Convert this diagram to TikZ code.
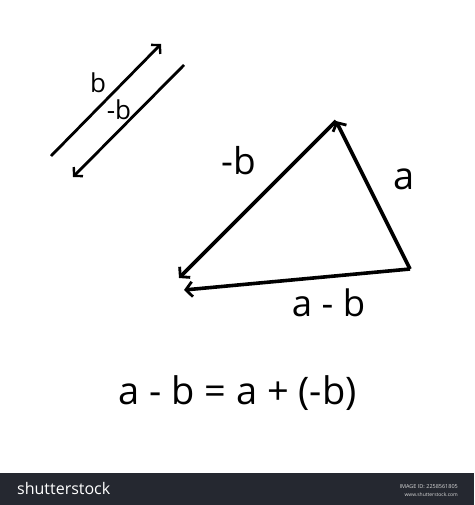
\documentclass[tikz,border=0pt]{standalone}
\usepackage{fontspec}
\setmainfont{Open Sans}
\usetikzlibrary{arrows.meta}
\definecolor{barcol}{HTML}{252830}
\definecolor{bartext}{HTML}{D8D8D8}
\tikzset{
  thinvec/.style={line width=2.8pt, -{Straight Barb[length=6pt,width=13pt,line width=2.4pt]}},
  thickvec/.style={line width=3.6pt, -{Straight Barb[length=6.5pt,width=15pt,line width=2.8pt]}},
  lbl/.style={anchor=base, inner sep=0pt, text=black},
}
\begin{document}
\begin{tikzpicture}[x=1pt,y=-1pt]
\useasboundingbox (0,0) rectangle (474,505);
\fill[white] (0,0) rectangle (474,505);
% top-left pair
\coordinate (b0) at (51,156);
\coordinate (b1) at (161,44);
\coordinate (n0) at (184,65);
\coordinate (n1) at (73,177);
\draw[thinvec] (b0) -- (b1);
\draw[thinvec] (n0) -- (n1);
\node[lbl, font=\fontsize{26}{30}\selectfont] (lb) at (98,93) {b};
\node[lbl, font=\fontsize{26}{30}\selectfont] (lnb) at (119,120) {-b};
% triangle
\coordinate (T) at (336,121);
\coordinate (R) at (410,269);
\coordinate (L1) at (179,278);
\coordinate (L2) at (184,290);
\draw[thickvec] (R) -- (T);
\draw[thickvec] (T) -- (L1);
\draw[thickvec] (R) -- (L2);
\node[lbl, font=\fontsize{37}{42}\selectfont] (tnb) at (239,174) {-b};
\node[lbl, font=\fontsize{38}{42}\selectfont] (ta) at (404,189) {a};
\node[lbl, font=\fontsize{36.5}{42}\selectfont] (tamb) at (328.5,316) {a - b};
% equation
\node[lbl, font=\fontsize{38}{44}\selectfont] (eq) at (237.5,404) {a - b = a + (-b)};
% bottom bar
\fill[barcol] (0,473) rectangle (474,505);
\node[anchor=base west, inner sep=0pt, text=white, font=\fontsize{16}{18}\selectfont] (ss) at (17,494) {shutterstock};
\node[anchor=base east, inner sep=0pt, text=bartext, font=\fontsize{5.5}{6}\selectfont] (iid) at (458,488) {IMAGE ID: 2258561805};
\node[anchor=base east, inner sep=0pt, text=bartext, font=\fontsize{5}{6}\selectfont] (www) at (458,496) {www.shutterstock.com};
\end{tikzpicture}
\end{document}
